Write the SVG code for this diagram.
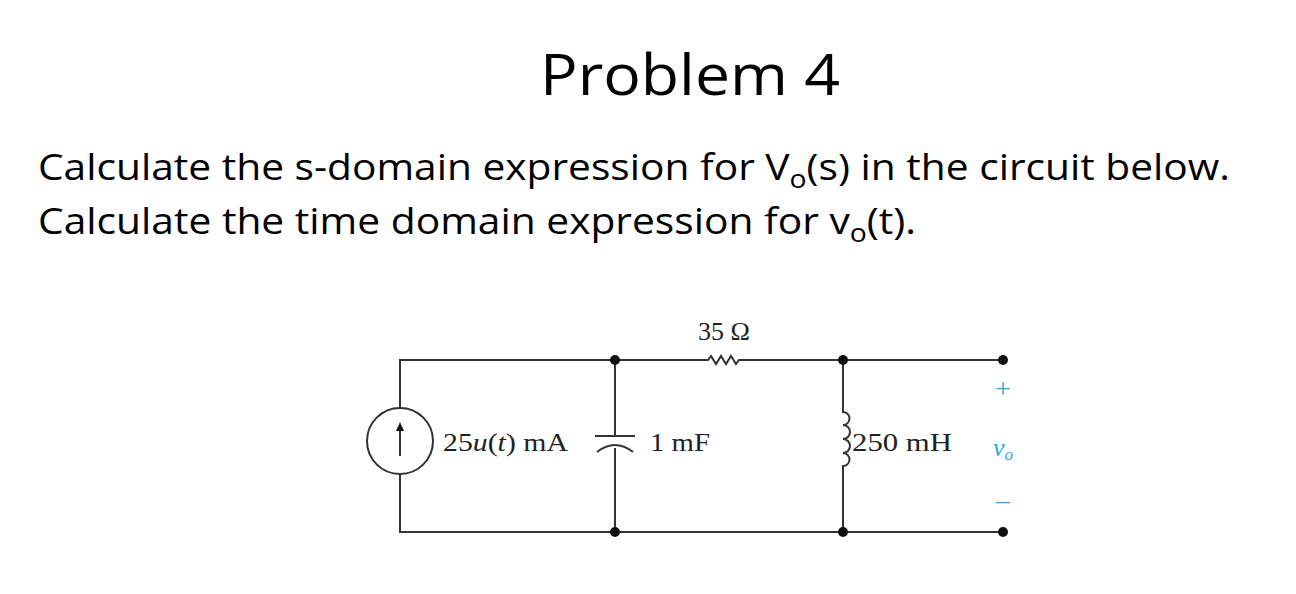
<svg xmlns="http://www.w3.org/2000/svg" width="1296" height="594" viewBox="0 0 1296 594">
<style>
.w{fill:none;stroke:#333;stroke-width:2}
.d{fill:#111}
.t{font-family:"Open Sans","Noto Sans",sans-serif;fill:#000}
.c{font-family:"Liberation Serif",serif;font-size:26px;fill:#222}
.b{font-family:"Liberation Serif",serif;fill:#29a8e0}
</style>
<rect width="1296" height="594" fill="#fff"/>
<text class="t" x="540" y="95" font-size="56" textLength="300" lengthAdjust="spacingAndGlyphs">Problem 4</text>
<text class="t" x="38" y="180" font-size="36" textLength="1192" lengthAdjust="spacingAndGlyphs">Calculate the s-domain expression for V<tspan font-size="25" dy="8">o</tspan><tspan dy="-8">(s) in the circuit below.</tspan></text>
<text class="t" x="38" y="234" font-size="36" textLength="878" lengthAdjust="spacingAndGlyphs">Calculate the time domain expression for v<tspan font-size="25" dy="8">o</tspan><tspan dy="-8">(t).</tspan></text>
<g id="wires" class="w">
<path d="M400 408V360H708l3-4 5 8 5-8 5 8 5-8 5 8 3-4H1003"/>
<path d="M400 474V532H1003"/>
<path d="M615 360V436M615 448V532"/>
<path d="M843 360V412a6 6 0 0 1 0 13a6 6 0 0 1 0 14a6 6 0 0 1 0 14a6 6 0 0 1 0 13V532"/>
</g>
<g id="source"><circle cx="400" cy="441" r="33" class="w"/><path d="M400 456V428" class="w"/><path d="M400 422l-4 9h8z" class="d"/>
<text class="c" x="443" y="451" textLength="125" lengthAdjust="spacingAndGlyphs">25<tspan font-style="italic">u</tspan>(<tspan font-style="italic">t</tspan>) mA</text></g>
<g id="capacitor"><path d="M595 436H635" class="w" stroke-width="3"/><path d="M597 452Q615 438 633 452" class="w" stroke-width="3"/><text class="c" x="650" y="451" textLength="60" lengthAdjust="spacingAndGlyphs">1 mF</text></g>
<g id="resistor"><text class="c" x="724" y="340" text-anchor="middle">35 Ω</text></g>
<g id="inductor"><text class="c" x="852" y="451" textLength="100" lengthAdjust="spacingAndGlyphs">250 mH</text></g>
<g id="nodes" class="d"><circle cx="615" cy="360" r="5"/><circle cx="843" cy="360" r="5"/><circle cx="1003" cy="360" r="5"/><circle cx="615" cy="532" r="5"/><circle cx="843" cy="532" r="5"/><circle cx="1003" cy="532" r="5"/></g>
<g id="vo"><text class="b" x="1003" y="398" font-size="28" text-anchor="middle">+</text><text class="b" x="1003" y="456" font-size="26" font-style="italic" text-anchor="middle">v<tspan font-size="17" dy="4">o</tspan></text><text class="b" x="1003" y="509" font-size="28" text-anchor="middle">–</text></g>
</svg>
